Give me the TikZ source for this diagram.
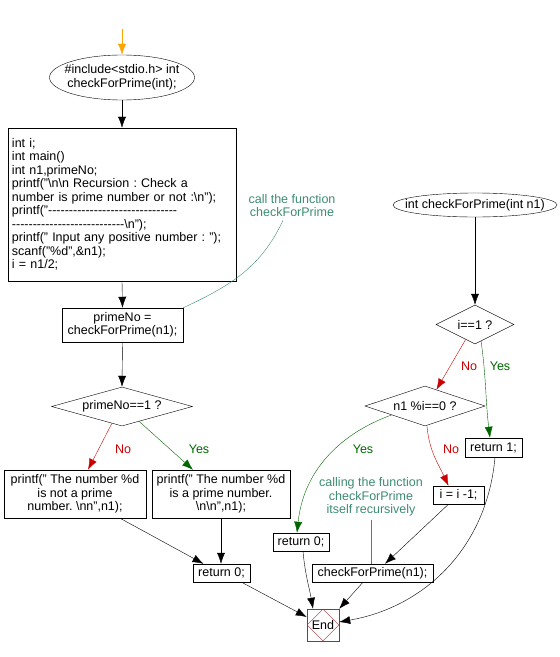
\documentclass[tikz,border=0pt]{standalone}
\usepackage{fontspec}
\setmainfont{Liberation Sans}
\usetikzlibrary{shapes.geometric}
\usetikzlibrary{arrows.meta}

\definecolor{noRed}{RGB}{204,0,0}
\definecolor{yesGreen}{RGB}{0,102,0}
\definecolor{noteTeal}{RGB}{60,140,110}
\definecolor{startOrange}{RGB}{255,165,0}
\definecolor{endBrown}{RGB}{165,42,42}

\newcommand{\hyphens}[1]{\foreach \k in {1,...,#1}{-{}}}
\newcommand{\bs}{\textbackslash}
\frenchspacing

\begin{document}
\begin{tikzpicture}[x=1bp,y=-1bp,
    font=\fontsize{12.5bp}{13.5bp}\selectfont,
    box/.style={draw,rectangle,inner sep=0pt,align=center},
    oval/.style={rectangle,inner sep=0pt,align=center},
    decision/.style={diamond,draw,inner sep=0pt},
    flow/.style={-{Latex[length=11bp,width=8bp]}},
    note/.style={noteTeal,align=center}]
    \useasboundingbox (0,0) rectangle (560,657);

    % main program
    \coordinate (start) at (122,29);
    \node[oval,minimum width=145bp,minimum height=45bp] (incl) at (122,77.5) {\#include<stdio.h> int\\checkForPrime(int);};
    \draw (incl.center) ellipse [x radius=72.5bp,y radius=22.5bp];
    \node[box,minimum width=228bp,minimum height=153bp,text width=220bp,align=left] (mainbox) at (122,204.5) {int i;\\int main()\\int n1,primeNo;\\printf("\bs n\bs n Recursion : Check a\\number is prime number or not :\bs n");\\printf("\hyphens{31}\\\hyphens{27}\bs n");\\printf(" Input any positive number : ");\\scanf("\%d",\&n1);\\i = n1/2;};
    \node[box,minimum width=121bp,minimum height=34bp] (primebox) at (122.5,325) {primeNo =\\checkForPrime(n1);};
    \node[decision,aspect=3.6,minimum width=141bp,minimum height=39bp] (test1) at (122,406.5) {primeNo==1 ?};
    \node[box,minimum width=142bp,minimum height=48bp] (notprime) at (75,494) {printf(" The number \%d\\is not a prime\\number. \bs nn",n1);};
    \node[box,minimum width=138bp,minimum height=48bp] (isprime) at (221,494) {printf(" The number \%d\\is a prime number.\\\bs n\bs n",n1);};
    \node[box,minimum width=57bp,minimum height=18bp] (retleft) at (221.5,573) {return 0;};
    \node[draw=endBrown,minimum size=32bp,inner sep=0pt] (End) at (323,625) {End};
    \node[diamond,draw=endBrown,minimum size=32bp,inner sep=0pt] (endmark) at (End.center) {};
    \node[note] (callnote) at (292,205.5) {call the function\\checkForPrime};
    \node[noRed] (no1) at (123,449) {No};
    \node[yesGreen] (yes1) at (199,449) {Yes};

    \draw[flow,startOrange] (start) -- (incl.north);
    \draw[flow] (incl.south) -- (mainbox.north);
    \draw[flow] (mainbox.south) -- (primebox.north);
    \draw[flow] (primebox.south) -- (test1.north);
    \draw[flow,noRed] (test1.239) -- ([xshift=13bp]notprime.north);
    \draw[flow,yesGreen] (test1.-41) -- ([xshift=-28bp]isprime.north);
    \draw[flow] ([xshift=45bp]notprime.south) -- ([xshift=-18bp]retleft.north);
    \draw[flow] (isprime.south) -- (isprime.south |- retleft.north);
    \draw[flow] ([xshift=20bp]retleft.south) -- ([yshift=8bp]End.west);
    \draw[noteTeal] ([xshift=-9bp]callnote.south) to[out=-115,in=25] (primebox.north east);

    % the function
    \node[oval,minimum width=164bp,minimum height=24bp] (fn) at (475,205) {int checkForPrime(int n1)};
    \draw (fn.center) ellipse [x radius=82bp,y radius=12bp];
    \node[decision,aspect=2,minimum width=78bp,minimum height=39bp] (test2) at (475,324.5) {i==1 ?};
    \node[decision,aspect=3,minimum width=120bp,minimum height=40bp] (test3) at (425,406) {n1 \%i==0 ?};
    \node[box,minimum width=57bp,minimum height=19bp] (retone) at (493.5,447.5) {return 1;};
    \node[box,minimum width=51bp,minimum height=18bp] (iminus) at (458.5,495) {i = i -1;};
    \node[box,minimum width=56bp,minimum height=18bp] (retmid) at (301,542) {return 0;};
    \node[box,minimum width=121bp,minimum height=18bp] (callbox) at (372.5,573) {checkForPrime(n1);};
    \node[note] (recnote) at (371,497) {calling the function\\checkForPrime\\itself recursively};
    \node[noRed] (no2) at (469,366) {No};
    \node[yesGreen] (yes2) at (500,366) {Yes};
    \node[yesGreen] (yes3) at (363,449) {Yes};
    \node[noRed] (no3) at (451,449) {No};

    \draw[flow] (fn.south) -- (test2.north);
    \draw[flow,noRed] (test2.238) -- (test3.55);
    \draw[flow,yesGreen] (test2.-70) to[out=-82,in=97] ([xshift=-3.5bp]retone.north);
    \draw[flow,noRed] ([xshift=2bp]test3.south) to[out=-85,in=115] ([xshift=-10bp]iminus.north);
    \draw[flow,yesGreen] (test3.195) to[out=200,in=84] ([xshift=-4bp]retmid.north);
    \draw[flow] ([xshift=2bp]retmid.south) to[out=-85,in=100] ([xshift=-10bp]End.north);
    \draw[flow] ([xshift=-10bp]iminus.south) -- ([xshift=12.5bp]callbox.north);
    \draw[flow] ([xshift=-9.5bp]callbox.south) -- (End.north east);
    \draw[flow] ([xshift=1.5bp]retone.south) to[out=-95,in=10] ([yshift=3bp]End.east);
    \draw[noteTeal] (recnote.south) -- (recnote.south |- callbox.north);
\end{tikzpicture}
\end{document}
